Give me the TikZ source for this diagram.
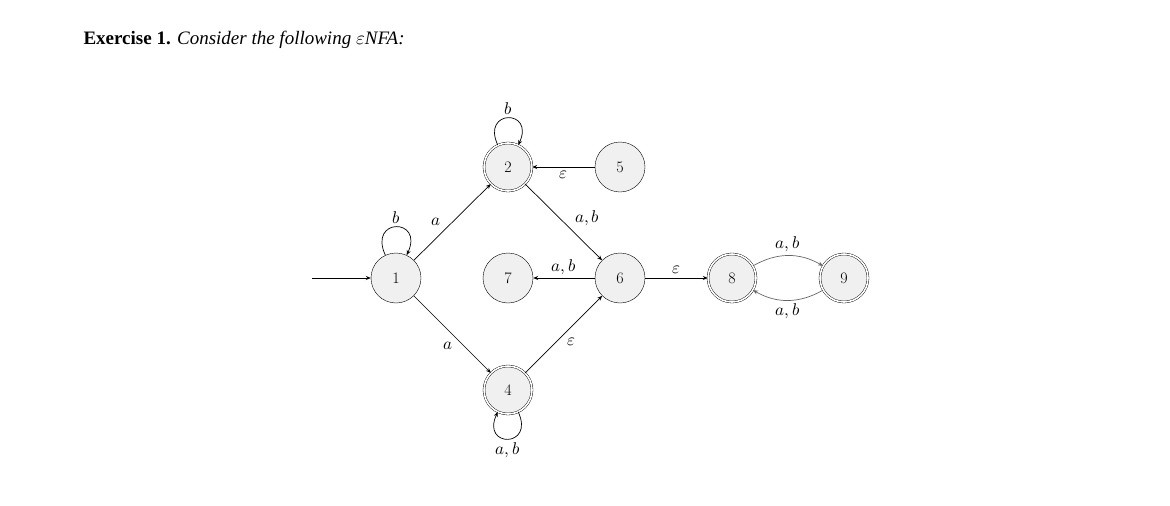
\documentclass[tikz,border=0pt]{standalone}
\usepackage{fontspec}
\usepackage{unicode-math}
\newfontfamily\headfont{Liberation Serif}
\usetikzlibrary{arrows.meta}
\begin{document}
\begin{tikzpicture}[x=1pt,y=-1pt,>={Stealth[length=5pt,width=4pt]},
  st/.style={circle,draw,fill=black!6,minimum size=50pt,inner sep=0pt,font=\fontsize{16}{18}\selectfont},
  acc/.style={st,double,double distance=1.6pt,minimum size=48pt},
  lab/.style={font=\fontsize{17}{19}\selectfont},
  e/.style={->,thick,line width=0.7pt}]
\useasboundingbox (0,0) rectangle (1170,506);
\node[anchor=base west,font=\fontsize{19}{22}\selectfont\headfont] (t) at (80,44) {\textbf{Exercise 1.} \textit{Consider the following $\varepsilon$NFA:}};
\node[st] (1) at (396,278) {1};
\node[acc] (2) at (508,167) {2};
\node[acc] (4) at (508,390) {4};
\node[st] (5) at (620,167) {5};
\node[st] (6) at (620,278) {6};
\node[st] (7) at (508,278) {7};
\node[acc] (8) at (732,278) {8};
\node[acc] (9) at (844,278) {9};
\coordinate (s) at (312,278);
\draw[e] (s) -- (1);
\draw[e] (1) to[out=115,in=65,looseness=5] node[lab,above] {$b$} (1);
\draw[e] (2) to[out=115,in=65,looseness=5] node[lab,above] {$b$} (2);
\draw[e] (4) to[out=-65,in=-115,looseness=5] node[lab,below] {$a,b$} (4);
\draw[e] (1) -- node[lab,above left,pos=0.4] {$a$} (2);
\draw[e] (1) -- node[lab,below left,pos=0.55] {$a$} (4);
\draw[e] (5) -- node[lab,below] {$\varepsilon$} (2);
\draw[e] (2) -- node[lab,above right,pos=0.6] {$a,b$} (6);
\draw[e] (6) -- node[lab,above] {$a,b$} (7);
\draw[e] (4) -- node[lab,below right] {$\varepsilon$} (6);
\draw[e] (6) -- node[lab,above] {$\varepsilon$} (8);
\draw[e,black!60] (8) to[bend left=30] node[lab,above,black] {$a,b$} (9);
\draw[e,black!60] (9) to[bend left=30] node[lab,below,black] {$a,b$} (8);
\end{tikzpicture}
\end{document}
